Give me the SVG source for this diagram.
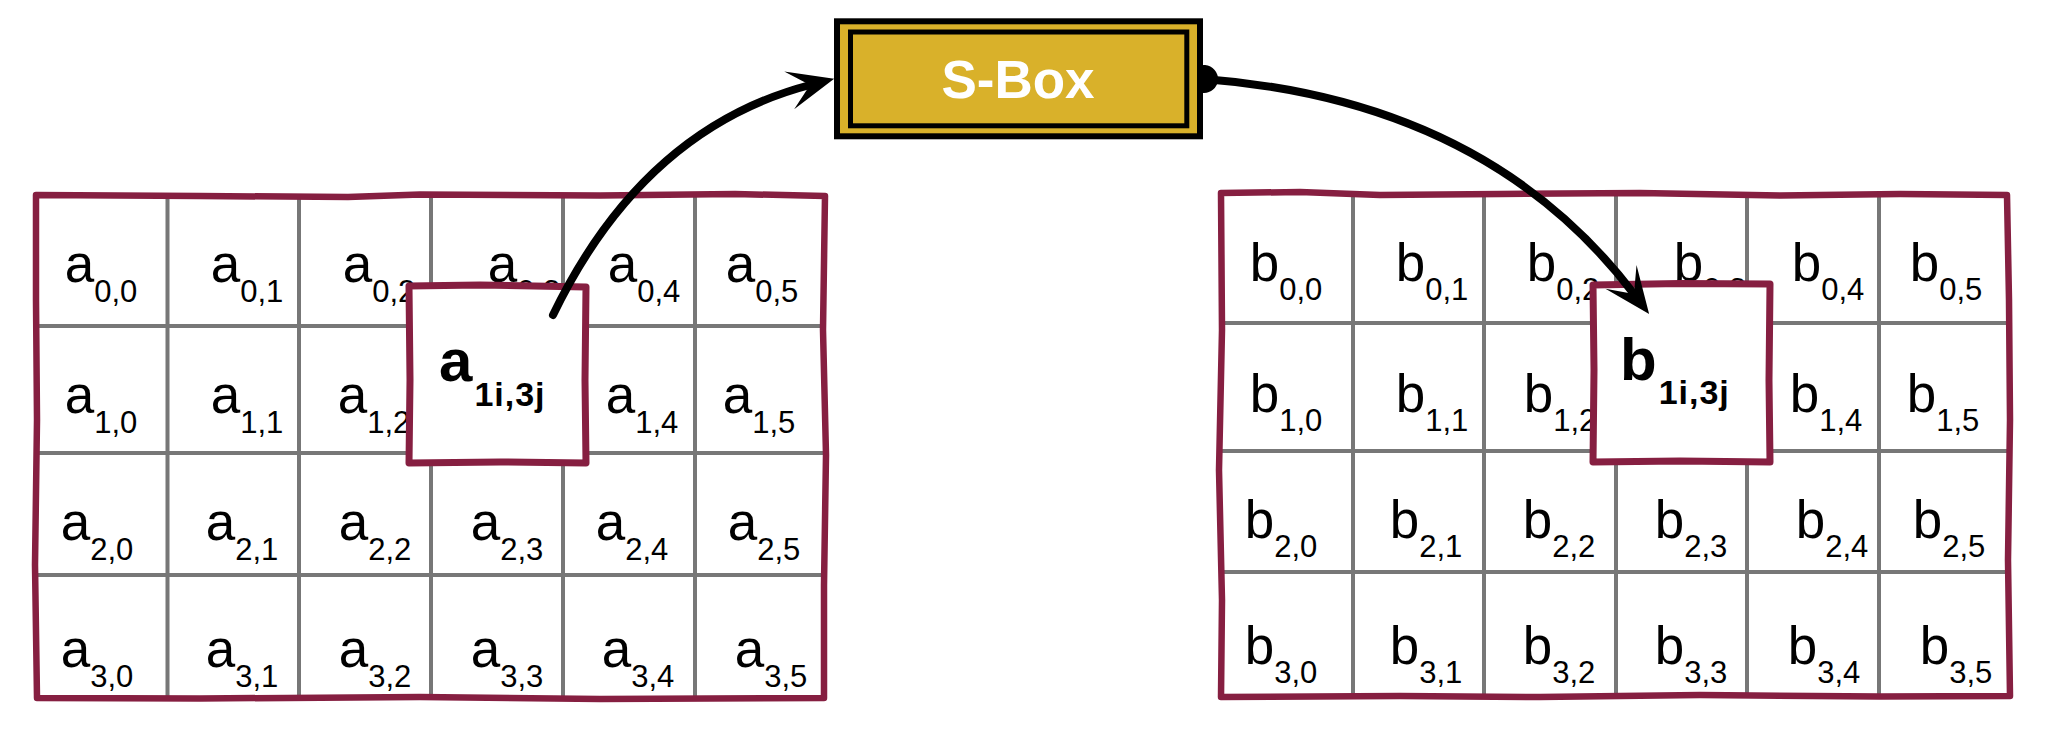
<svg xmlns="http://www.w3.org/2000/svg" width="2048" height="734" viewBox="0 0 2048 734">
<style>
.grid{stroke:#777;stroke-width:4;fill:none}
.frame{fill:none;stroke:#861F41;stroke-width:6.5;stroke-linejoin:round}
.hl{fill:#fff;stroke:#861F41;stroke-width:7;stroke-linejoin:round}
.lbl{font-family:"Liberation Sans",Arial,sans-serif;font-size:53px;fill:#000;text-anchor:middle}
.sub{font-size:31px}
.big{font-family:"Liberation Sans",Arial,sans-serif;font-weight:bold;font-size:60px;fill:#000}
.bsub{font-size:34px;letter-spacing:1px}
.conn{fill:none;stroke:#000;stroke-width:8;stroke-linecap:round}
.sboxtxt{font-family:"Liberation Sans",Arial,sans-serif;font-weight:bold;font-size:53px;fill:#fff;text-anchor:middle}
</style>
<defs>
<marker id="arrow" markerUnits="userSpaceOnUse" viewBox="-25 -22 54 44" markerWidth="54" markerHeight="44" refX="0" refY="0" orient="auto" overflow="visible">
<path d="M25,0 L-21.5,-19.5 L0,0 L-21.5,19.5 Z" fill="#000"/>
</marker>
<marker id="dot" markerUnits="userSpaceOnUse" viewBox="-15 -15 30 30" markerWidth="30" markerHeight="30" refX="0" refY="0" orient="auto" overflow="visible">
<circle cx="0" cy="0" r="14" fill="#000"/>
</marker>
</defs>
<rect width="2048" height="734" fill="#fff"/>

<g id="left-table">
<path class="grid" d="M167.5,195V698M299,195V698M431,195V698M563,195V698M695,195V698M36,326H825M36,453H825M36,575H825"/>
<g id="a-0-0"><text class="lbl" x="101" y="282">a<tspan class="sub" dy="20">0,0</tspan></text></g>
<g id="a-0-1"><text class="lbl" x="247" y="282">a<tspan class="sub" dy="20">0,1</tspan></text></g>
<g id="a-0-2"><text class="lbl" x="379" y="282">a<tspan class="sub" dy="20">0,2</tspan></text></g>
<g id="a-0-3"><text class="lbl" x="524" y="282">a<tspan class="sub" dy="20">0,3</tspan></text></g>
<g id="a-0-4"><text class="lbl" x="644" y="282">a<tspan class="sub" dy="20">0,4</tspan></text></g>
<g id="a-0-5"><text class="lbl" x="762" y="282">a<tspan class="sub" dy="20">0,5</tspan></text></g>
<g id="a-1-0"><text class="lbl" x="101" y="413">a<tspan class="sub" dy="20">1,0</tspan></text></g>
<g id="a-1-1"><text class="lbl" x="247" y="413">a<tspan class="sub" dy="20">1,1</tspan></text></g>
<g id="a-1-2"><text class="lbl" x="374" y="413">a<tspan class="sub" dy="20">1,2</tspan></text></g>
<g id="a-1-4"><text class="lbl" x="642" y="413">a<tspan class="sub" dy="20">1,4</tspan></text></g>
<g id="a-1-5"><text class="lbl" x="759" y="413">a<tspan class="sub" dy="20">1,5</tspan></text></g>
<g id="a-2-0"><text class="lbl" x="97" y="540">a<tspan class="sub" dy="20">2,0</tspan></text></g>
<g id="a-2-1"><text class="lbl" x="242" y="540">a<tspan class="sub" dy="20">2,1</tspan></text></g>
<g id="a-2-2"><text class="lbl" x="375" y="540">a<tspan class="sub" dy="20">2,2</tspan></text></g>
<g id="a-2-3"><text class="lbl" x="507" y="540">a<tspan class="sub" dy="20">2,3</tspan></text></g>
<g id="a-2-4"><text class="lbl" x="632" y="540">a<tspan class="sub" dy="20">2,4</tspan></text></g>
<g id="a-2-5"><text class="lbl" x="764" y="540">a<tspan class="sub" dy="20">2,5</tspan></text></g>
<g id="a-3-0"><text class="lbl" x="97" y="667">a<tspan class="sub" dy="20">3,0</tspan></text></g>
<g id="a-3-1"><text class="lbl" x="242" y="667">a<tspan class="sub" dy="20">3,1</tspan></text></g>
<g id="a-3-2"><text class="lbl" x="375" y="667">a<tspan class="sub" dy="20">3,2</tspan></text></g>
<g id="a-3-3"><text class="lbl" x="507" y="667">a<tspan class="sub" dy="20">3,3</tspan></text></g>
<g id="a-3-4"><text class="lbl" x="638" y="667">a<tspan class="sub" dy="20">3,4</tspan></text></g>
<g id="a-3-5"><text class="lbl" x="771" y="667">a<tspan class="sub" dy="20">3,5</tspan></text></g>
<path class="frame" d="M36,195 L200,196 L348,197 L420,194.5 L600,195.5 L735,194 L825,196 L823,330 L826,455 L824,585 L824,698 L600,699 L420,697 L200,698.5 L37,698 L35,565 L37,420 L36,300 Z"/>
</g>

<g id="right-table">
<path class="grid" d="M1353,193V696M1484,193V696M1616,193V696M1747,193V696M1879,193V696M1220,323H2009M1220,451H2009M1220,572H2009"/>
<g id="b-0-0"><text class="lbl" x="1286" y="281">b<tspan class="sub" dy="19">0,0</tspan></text></g>
<g id="b-0-1"><text class="lbl" x="1432" y="281">b<tspan class="sub" dy="19">0,1</tspan></text></g>
<g id="b-0-2"><text class="lbl" x="1563" y="281">b<tspan class="sub" dy="19">0,2</tspan></text></g>
<g id="b-0-3"><text class="lbl" x="1710" y="281">b<tspan class="sub" dy="19">0,3</tspan></text></g>
<g id="b-0-4"><text class="lbl" x="1828" y="281">b<tspan class="sub" dy="19">0,4</tspan></text></g>
<g id="b-0-5"><text class="lbl" x="1946" y="281">b<tspan class="sub" dy="19">0,5</tspan></text></g>
<g id="b-1-0"><text class="lbl" x="1286" y="412">b<tspan class="sub" dy="19">1,0</tspan></text></g>
<g id="b-1-1"><text class="lbl" x="1432" y="412">b<tspan class="sub" dy="19">1,1</tspan></text></g>
<g id="b-1-2"><text class="lbl" x="1560" y="412">b<tspan class="sub" dy="19">1,2</tspan></text></g>
<g id="b-1-4"><text class="lbl" x="1826" y="412">b<tspan class="sub" dy="19">1,4</tspan></text></g>
<g id="b-1-5"><text class="lbl" x="1943" y="412">b<tspan class="sub" dy="19">1,5</tspan></text></g>
<g id="b-2-0"><text class="lbl" x="1281" y="538">b<tspan class="sub" dy="19">2,0</tspan></text></g>
<g id="b-2-1"><text class="lbl" x="1426" y="538">b<tspan class="sub" dy="19">2,1</tspan></text></g>
<g id="b-2-2"><text class="lbl" x="1559" y="538">b<tspan class="sub" dy="19">2,2</tspan></text></g>
<g id="b-2-3"><text class="lbl" x="1691" y="538">b<tspan class="sub" dy="19">2,3</tspan></text></g>
<g id="b-2-4"><text class="lbl" x="1832" y="538">b<tspan class="sub" dy="19">2,4</tspan></text></g>
<g id="b-2-5"><text class="lbl" x="1949" y="538">b<tspan class="sub" dy="19">2,5</tspan></text></g>
<g id="b-3-0"><text class="lbl" x="1281" y="664">b<tspan class="sub" dy="19">3,0</tspan></text></g>
<g id="b-3-1"><text class="lbl" x="1426" y="664">b<tspan class="sub" dy="19">3,1</tspan></text></g>
<g id="b-3-2"><text class="lbl" x="1559" y="664">b<tspan class="sub" dy="19">3,2</tspan></text></g>
<g id="b-3-3"><text class="lbl" x="1691" y="664">b<tspan class="sub" dy="19">3,3</tspan></text></g>
<g id="b-3-4"><text class="lbl" x="1824" y="664">b<tspan class="sub" dy="19">3,4</tspan></text></g>
<g id="b-3-5"><text class="lbl" x="1956" y="664">b<tspan class="sub" dy="19">3,5</tspan></text></g>
<path class="frame" d="M1221,193 L1300,192 L1380,195 L1500,194 L1640,193 L1780,195.5 L1900,194 L2007,195 L2009,300 L2010,420 L2008,560 L2010,696 L1880,696.5 L1700,695 L1540,697 L1400,696 L1221,697 L1222,600 L1219,470 L1222,330 Z"/>
</g>

<g id="a-highlight">
<path class="hl" d="M409,286 L480,285 L586,287 L585,380 L586,463 L500,462 L409,463 L410,380 Z"/>
<text class="big" x="439" y="381">a<tspan class="bsub" dx="2" dy="25">1i,3j</tspan></text>
</g>

<g id="b-highlight">
<path class="hl" d="M1593,285 L1680,283.5 L1770,284 L1769,380 L1770,462 L1680,461 L1593,462 L1594,370 Z"/>
<text class="big" x="1620" y="380">b<tspan class="bsub" dx="2" dy="24">1i,3j</tspan></text>
</g>

<g id="connectors">
<path class="conn" d="M553,315 Q643,129 810,85" marker-end="url(#arrow)"/>
<path class="conn" d="M1204,79 Q1487,100.5 1634,294" marker-start="url(#dot)" marker-end="url(#arrow)"/>
</g>

<g id="sbox">
<rect x="837" y="21.3" width="363" height="115" fill="#D9B12A" stroke="#000" stroke-width="6"/>
<rect x="850.5" y="32" width="336.3" height="93.8" fill="#D9B12A" stroke="#000" stroke-width="5"/>
<text class="sboxtxt" x="1018" y="98">S-Box</text>
</g>
</svg>
